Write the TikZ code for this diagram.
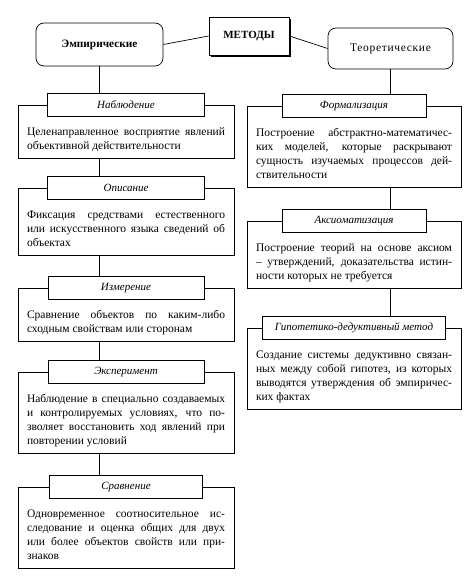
\documentclass[tikz,border=0pt]{standalone}
\usepackage{fontspec}
\setmainfont{Liberation Serif}
\usetikzlibrary{shadows}
\hyphenpenalty=10000
\exhyphenpenalty=10000
\protected\def\bodyfont{\fontsize{11.5}{14}\selectfont\spaceskip=.25em plus .25em minus .1em\relax}
\begin{document}
\begin{tikzpicture}[x=1pt,y=-1pt,line width=0.7pt,
    top node/.style={rectangle,draw,rounded corners=8pt,minimum height=43pt,font=\fontsize{11.5}{13}\selectfont},
    root node/.style={rectangle,draw,fill=white,minimum width=80pt,minimum height=38pt,font=\bfseries\fontsize{11}{13}\selectfont,
      drop shadow={shadow xshift=1.6pt,shadow yshift=-1.6pt,opacity=1,fill=black}},
    body node/.style={rectangle,draw,anchor=north,text width=198pt,text height=26.5pt,inner xsep=9pt,inner ysep=4pt,
      align=justify,font=\bodyfont},
    title node/.style={rectangle,draw,fill=white,minimum height=23pt,inner xsep=2pt,font=\itshape\fontsize{11}{12}\selectfont}]
   \useasboundingbox (0,0) rectangle (474,585);
   % top level
   \node[root node] (met) at (249,36) {МЕТОДЫ};
   \node[top node,minimum width=127pt,font=\bfseries\fontsize{11.3}{13}\selectfont] (emp) at (99.5,44.5) {Эмпирические};
   \node[top node,minimum width=125pt,minimum height=41pt] (teor) at (390.5,48.5) {\addfontfeatures{LetterSpace=6}Теоретические};
   \path[-] (emp.east) edge (met.west);
   \path[-] (met.east) edge (teor.west);
   % empirical methods
   \node[body node] (nabl) at (126,105) {Целенаправленное восприятие явлений\linebreak
     объективной действительности\strut};
   \node[body node] (opis) at (126,188) {Фиксация средствами естественного\linebreak
     или искусственного языка сведений об\linebreak объектах\strut};
   \node[body node] (izm) at (126,288) {Сравнение объектов по каким-либо\linebreak
     сходным свойствам или сторонам\strut};
   \node[body node] (eksp) at (126,372) {Наблюдение в специально создаваемых\linebreak
     и контролируемых условиях, что по-\linebreak зволяет восстановить ход явлений при\linebreak
     повторении условий\strut};
   \node[body node] (sravn) at (126,487) {Одновременное соотносительное ис-\linebreak
     следование и оценка общих для двух\linebreak или более объектов свойств или при-\linebreak
     знаков\strut};
   \node[title node,minimum width=157pt] (nabl t) at (nabl.north) {Наблюдение};
   \node[title node,minimum width=157pt] (opis t) at (opis.north) {Описание};
   \node[title node,minimum width=156pt] (izm t) at (izm.north) {Измерение};
   \node[title node,minimum width=156pt] (eksp t) at (eksp.north) {Эксперимент};
   \node[title node,minimum width=153pt] (sravn t) at (sravn.north) {Сравнение};
   % theoretical methods
   \node[body node,text width=196pt] (form) at (354,106) {Построение абстрактно-математичес-\linebreak
     ких моделей, которые раскрывают\linebreak сущность изучаемых процессов дей-\linebreak
     ствительности\strut};
   \node[body node,text width=196pt] (aks) at (354,221) {Построение теорий на основе аксиом\linebreak
     – утверждений, доказательства истин-\linebreak ности которых не требуется\strut};
   \node[body node,text width=196pt] (gip) at (354,328) {Создание системы дедуктивно связан-\linebreak
     ных между собой гипотез, из которых\linebreak выводятся утверждения об эмпиричес-\linebreak
     ких фактах\strut};
   \node[title node,minimum width=144pt] (form t) at (form.north) {Формализация};
   \node[title node,minimum width=144pt] (aks t) at (aks.north) {Аксиоматизация};
   \node[title node,minimum width=183pt] (gip t) at (gip.north) {Гипотетико-дедуктивный метод};
   % links
   \path[-] (emp.south) edge (emp.south |- nabl t.north);
   \path[-] (emp.south |- nabl.south) edge (emp.south |- opis t.north);
   \path[-] (emp.south |- opis.south) edge (emp.south |- izm t.north);
   \path[-] (emp.south |- izm.south) edge (emp.south |- eksp t.north);
   \path[-] (emp.south |- eksp.south) edge (emp.south |- sravn t.north);
   \path[-] (teor.south) edge (teor.south |- form t.north);
   \path[-] (teor.south |- form.south) edge (teor.south |- aks t.north);
   \path[-] (teor.south |- aks.south) edge (teor.south |- gip t.north);
\end{tikzpicture}
\end{document}
